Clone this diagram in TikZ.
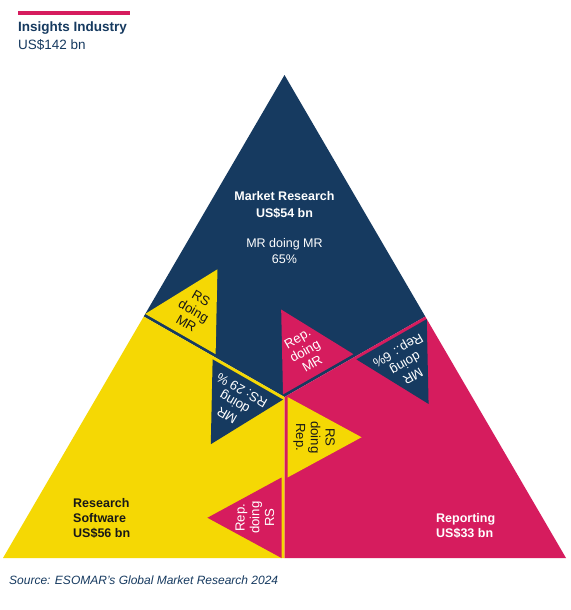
\documentclass[tikz,border=0pt]{standalone}
\usepackage{fontspec}
\setmainfont{Liberation Sans}
\usetikzlibrary{calc}
\definecolor{navy}{RGB}{22,58,96}
\definecolor{mpink}{RGB}{214,28,94}
\definecolor{myellow}{RGB}{245,216,4}
\definecolor{ink}{RGB}{24,24,24}
\newcommand\gapw{3pt}
\newcommand\mktri[3]{%
  \coordinate (#1a) at ($(#2)!\gapw!90:(#3)$);
  \coordinate (#1b) at ($(#3)!\gapw!-90:(#2)$);
  \coordinate (#1m) at ($(#1a)!0.5!(#1b)$);
  \coordinate (#1c) at ($(#1m)!1.84!90:(#1b)$);
  \coordinate (#1o) at ($(#1m)!0.36!(#1c)$);
}
\tikzset{
  tritext/.style={font=\fontsize{13.2}{14.8}\selectfont, align=center, inner sep=0pt},
  boldtext/.style={font=\bfseries\fontsize{12.5}{15}\selectfont, inner sep=0pt},
}
\begin{document}
\begin{tikzpicture}[x=1pt,y=-1pt]
\useasboundingbox (0,0) rectangle (570,610);
\fill[white] (0,0) rectangle (570,610);

% header
\fill[mpink] (18,11.5) rectangle (130,15);
\node[font=\bfseries\fontsize{13.5}{16}\selectfont, text=navy, anchor=west, inner sep=0pt] (title) at (18,28.5) {Insights Industry};
\node[font=\fontsize{13.5}{16}\selectfont, text=navy, anchor=west, inner sep=0pt] (total) at (18,44.5) {US\$142 bn};

% main triangle
\coordinate (A) at (284.5,75);
\coordinate (BL) at (3,558);
\coordinate (BR) at (566,558);
\coordinate (L) at ($(A)!0.5!(BL)$);
\coordinate (R) at ($(A)!0.5!(BR)$);
\coordinate (B) at ($(BL)!0.5!(BR)$);
\coordinate (C) at ($(A)!2/3!(B)$);
\coordinate (M1) at ($(L)!0.5!(C)$);
\coordinate (M2) at ($(R)!0.5!(C)$);
\coordinate (M3) at ($(C)!0.5!(B)$);

\fill[navy] (A) -- (R) -- (C) -- (L) -- cycle;
\fill[myellow] (L) -- (C) -- (B) -- (BL) -- cycle;
\fill[mpink] (C) -- (R) -- (BR) -- (B) -- cycle;

\mktri{ta}{L}{M1}
\mktri{tb}{C}{M1}
\mktri{tc}{C}{M2}
\mktri{td}{R}{M2}
\mktri{te}{C}{M3}
\mktri{tf}{B}{M3}

\begin{scope}
  \clip (A) -- (BR) -- (BL) -- cycle;
  \fill[myellow] (taa) -- (tab) -- (tac) -- cycle;
  \fill[navy] (tba) -- (tbb) -- (tbc) -- cycle;
  \fill[mpink] (tca) -- (tcb) -- (tcc) -- cycle;
  \fill[navy] (tda) -- (tdb) -- (tdc) -- cycle;
  \fill[myellow] (tea) -- (teb) -- (tec) -- cycle;
  \fill[mpink] (tfa) -- (tfb) -- (tfc) -- cycle;
\end{scope}

% texts in small triangles
\node[tritext, text=ink, rotate=-30] (la) at (tao) {RS\\doing\\MR};
\node[tritext, text=white, rotate=150] (lb) at (tbo) {MR\\doing\\RS: 29 \%};
\node[tritext, text=white, rotate=30] (lc) at (tco) {Rep.\\doing\\MR};
\node[tritext, text=white, rotate=210] (ld) at (tdo) {MR\\doing\\Rep.: 6\%};
\node[tritext, text=ink, rotate=-90] (le) at (teo) {RS\\doing\\Rep.};
\node[tritext, text=white, rotate=90] (lf) at (tfo) {Rep.\\doing\\RS};

% region texts
\node[boldtext, text=white, align=center, font=\bfseries\fontsize{12.5}{16.5}\selectfont] (mr) at (284.5,205) {Market Research\\US\$54 bn};
\node[tritext, text=white, font=\fontsize{12.5}{16.5}\selectfont] (mrmr) at (284.5,251) {MR doing MR\\65\%};
\node[boldtext, text=ink, align=left, anchor=west] (rs) at (73,518) {Research\\Software\\US\$56 bn};
\node[boldtext, text=white, align=left, anchor=west] (rep) at (436,525.5) {Reporting\\US\$33 bn};

% source
\node[font=\itshape\fontsize{12}{14}\selectfont, text=navy, anchor=west, inner sep=0pt] (src) at (9,580) {Source: ESOMAR’s Global Market Research 2024};
\end{tikzpicture}
\end{document}
